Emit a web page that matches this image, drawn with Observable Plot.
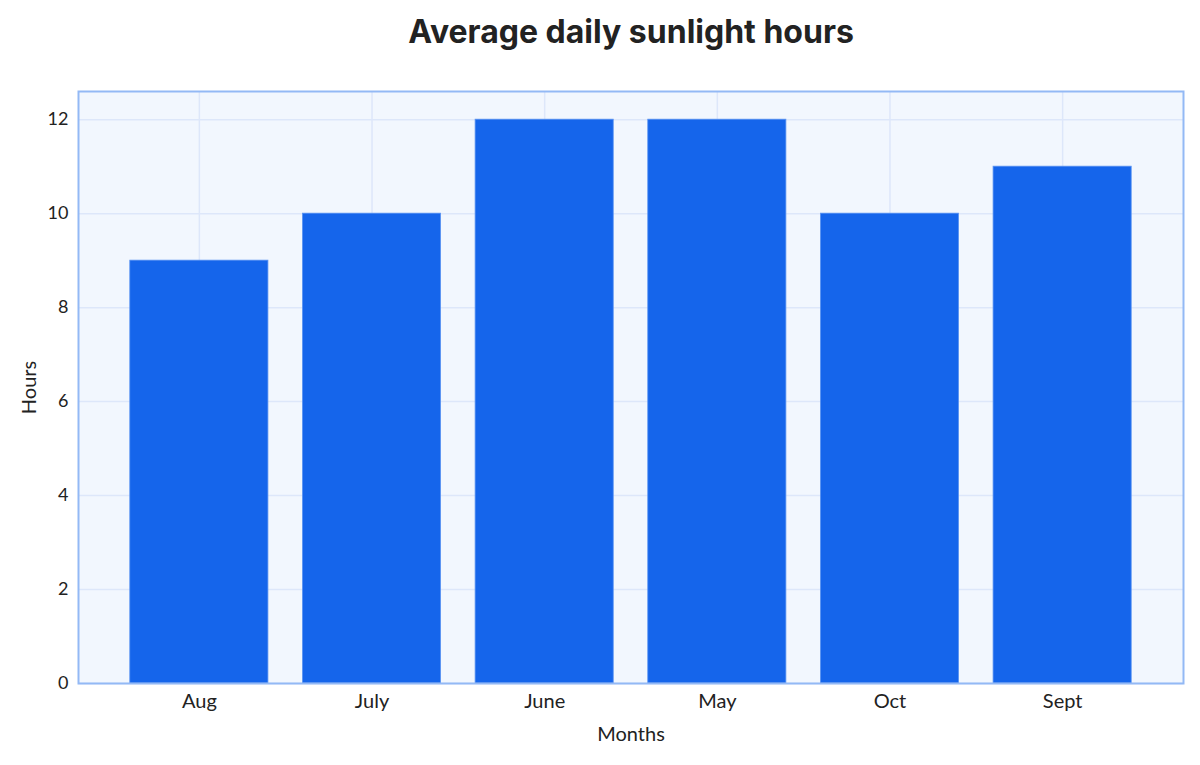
<!DOCTYPE html>
<html>
<head>
<meta charset="utf-8">
<script src="https://cdn.jsdelivr.net/npm/d3@7"></script>
<script src="https://cdn.jsdelivr.net/npm/@observablehq/plot@0.6"></script>
<style>
  html, body { margin: 0; padding: 0; background: #ffffff; }
  body { width: 1200px; height: 765px; overflow: hidden; font-family: "Lato", "Inter", sans-serif; }
  #title { height: 70px; display: flex; align-items: center; justify-content: center; padding-left: 62px;
    font-family: "Inter", sans-serif; font-weight: 700; font-size: 32px; color: #222222; letter-spacing: 0px; box-sizing: border-box; padding-bottom: 8px; }
  #chart svg { display: block; }
</style>
</head>
<body>
<div id="title">Average daily sunlight hours</div>
<div id="chart"></div>
<script>
const months = ["Aug", "July", "June", "May", "Oct", "Sept"];
const hours = [9, 10, 12, 12, 10, 11];
const yTicks = [0, 2, 4, 6, 8, 10, 12];

const data = months.map((m, i) => ({month: m, hours: hours[i]}));

const chart = Plot.plot({
  width: 1200,
  height: 695,
  marginTop: 21,
  marginBottom: 82,
  marginLeft: 78,
  marginRight: 17,
  style: {fontFamily: "Lato, Inter, sans-serif", fontSize: "18px", color: "#222222", background: "#ffffff"},
  x: {domain: months, paddingInner: 0.2, paddingOuter: 0.3, round: false},
  y: {domain: [0, 12.6]},
  marks: [
    Plot.frame({fill: "#f2f7fe", stroke: "none"}),
    Plot.gridX(months, {stroke: "#dde7fa", strokeOpacity: 1, strokeWidth: 1.5}),
    Plot.gridY(yTicks, {stroke: "#dde7fa", strokeOpacity: 1, strokeWidth: 1.5}),
    Plot.barY(data, {x: "month", y: "hours", fill: "#1565eb", stroke: "#5a93f2", strokeWidth: 0.8}),
    Plot.frame({stroke: "#93b9f5", strokeWidth: 2}),
    Plot.axisY(yTicks, {tickSize: 0, tickPadding: 10, fontSize: 18, label: "Hours", labelAnchor: "center", labelArrow: "none", labelOffset: 57}),
    Plot.axisX({tickSize: 0, tickPadding: 10, fontSize: 20, label: "Months", labelAnchor: "center", labelArrow: "none", labelOffset: 57})
  ]
});
document.getElementById("chart").appendChild(chart);
chart.querySelectorAll("[aria-label='y-axis label'] text, [aria-label='x-axis label'] text").forEach(t => t.setAttribute("font-size", 20));
</script>
</body>
</html>
